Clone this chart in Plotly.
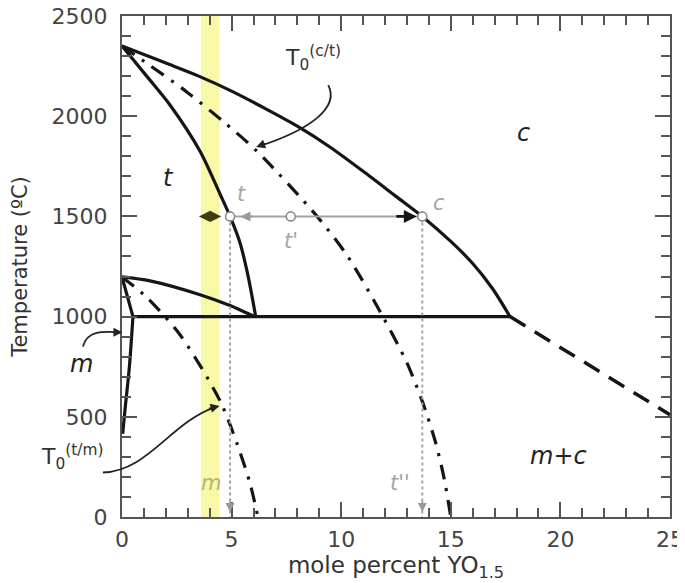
import plotly.graph_objects as go

# ---------------- data (mole % YO1.5 , temperature in C) ----------------
# c / (t+c) boundary
ct_x = [0, 1, 2, 3.5, 5, 6.5, 8, 9.5, 11, 12.5, 13.7, 15, 16, 16.9, 17.7]
ct_T = [2350, 2308, 2265, 2200, 2125, 2040, 1950, 1845, 1725, 1600, 1500, 1375, 1265, 1140, 1000]
# t / (t+c) boundary
tc_x = [0, 1.2, 2.19, 3.56, 4.47, 4.93, 5.39, 5.75, 6.1]
tc_T = [2350, 2190, 2056, 1825, 1612, 1500, 1366, 1203, 1000]
# t / (m+t) boundary
tm_x = [0, 1.28, 3.56, 4.93, 5.84, 6.1]
tm_T = [1198, 1178, 1109, 1055, 1011, 1000]
# m / (m+t) boundary
mt_x = [0, 0.5]
mt_T = [1198, 1000]
# m solvus
ms_x = [0.5, 0.33, 0.15, 0.03]
ms_T = [1000, 740, 550, 415]
# eutectoid isotherm
eu_x = [0.5, 17.7]
eu_T = [1000, 1000]
# metastable extension (dashed)
ext_x = [17.7, 25]
ext_T = [1000, 510]
# T0 (c/t)
t0ct_x = [0, 1.28, 2.97, 4.6, 6.16, 8.9, 10.3, 11.9, 13.0, 13.7, 14.3, 14.7, 15.0]
t0ct_T = [2350, 2253, 2120, 1975, 1825, 1500, 1300, 1000, 769, 577, 374, 190, 0]
# T0 (t/m)
t0tm_x = [0, 1.14, 2.56, 3.65, 4.56, 5.25, 5.84, 6.2]
t0tm_T = [1198, 1095, 922, 740, 560, 365, 168, 0]
# tie line at 1500 C and compositions
tie_T = 1500
tie_x = [4.93, 13.7]
tie_pts_x = [4.93, 7.7, 13.7]
band_x = [3.6, 4.45]
band_mid = 4.02

# labels
phase_labels = ["<i>t</i>", "<i>c</i>", "<i>m+c</i>", "<i>m</i>"]
phase_lx = [2.1, 18.3, 19.9, -1.83]
phase_lT = [1691, 1918, 306, 764]
grey_labels = ["<i>t</i>", "<i>t'</i>", "<i>c</i>", "<i>t''</i>"]
grey_lx = [5.45, 7.7, 14.45, 12.7]
grey_lT = [1610, 1375, 1565, 170]
band_label = "<i>m</i>"
band_lx, band_lT = 4.06, 168
t0_labels = ["T<sub>0</sub><sup>(c/t)</sup>", "T<sub>0</sub><sup>(t/m)</sup>"]
t0_lx = [8.7, -2.3]
t0_lT = [2290, 300]

XR = [0, 25]
YR = [0, 2500]

def px(x):
    return (x - XR[0]) / (XR[1] - XR[0])

def py(y):
    return (y - YR[0]) / (YR[1] - YR[0])

fig = go.Figure()

BLK = "#151515"

def curve(x, y, dash="solid", width=3.2, color=BLK, shape="spline"):
    fig.add_trace(go.Scatter(x=x, y=y, mode="lines",
                             line=dict(color=color, width=width, dash=dash, shape=shape, smoothing=0.8),
                             hoverinfo="skip", showlegend=False))

curve(ct_x, ct_T)
curve(tc_x, tc_T)
curve(tm_x, tm_T)
curve(mt_x, mt_T, shape="linear")
curve(ms_x, ms_T)
curve(eu_x, eu_T, shape="linear")
curve(ext_x, ext_T, dash="18px,11px", width=3.5, shape="linear")
curve(t0ct_x, t0ct_T, dash="15px,9px,3px,9px", width=3.2)
curve(t0tm_x, t0tm_T, dash="15px,9px,3px,9px", width=3.2)

# tie line & dotted verticals
GREY = "#a3a3a3"
fig.add_trace(go.Scatter(x=tie_x, y=[tie_T, tie_T], mode="lines",
                         line=dict(color=GREY, width=2), hoverinfo="skip", showlegend=False))
for xv in tie_x:
    fig.add_trace(go.Scatter(x=[xv, xv], y=[tie_T, YR[0]], mode="lines",
                             line=dict(color=GREY, width=2, dash="3px,3px"),
                             hoverinfo="skip", showlegend=False))
fig.add_trace(go.Scatter(x=tie_pts_x, y=[tie_T] * 3, mode="markers",
                         marker=dict(symbol="circle", size=9, color="white",
                                     line=dict(color="#8c8c8c", width=1.6)),
                         hoverinfo="skip", showlegend=False))
fig.add_trace(go.Scatter(x=[band_mid], y=[tie_T], mode="markers",
                         marker=dict(symbol="diamond-wide", size=16, color="#3d3d12"),
                         hoverinfo="skip", showlegend=False))

shapes = [dict(type="rect", xref="x", yref="y", x0=band_x[0], x1=band_x[1], y0=YR[0], y1=YR[1],
               fillcolor="#f8f8a6", line=dict(width=0), layer="below")]

# curved pointer arrows (paper coordinates from data)
def cpath(pts):
    p = ["M %.4f,%.4f" % (px(pts[0][0]), py(pts[0][1])), "C"]
    p += ["%.4f,%.4f" % (px(a), py(b)) for a, b in pts[1:]]
    return " ".join(p)

arrow_paths = [
    [(9.41, 2155), (9.95, 2040), (8.5, 1930), (6.25, 1850)],
    [(-0.87, 222), (1.2, 230), (2.2, 470), (4.25, 548)],
    [(-1.78, 850), (-1.6, 935), (-0.8, 925), (-0.1, 922)],
]
for pts in arrow_paths:
    shapes.append(dict(type="path", xref="paper", yref="paper", path=cpath(pts),
                       line=dict(color="#222", width=1.8)))

ann = []
FONT = "DejaVu Sans"

def label(t, x, y, size, color):
    ann.append(dict(x=px(x), y=py(y), xref="paper", yref="paper", text=t, showarrow=False,
                    xanchor="center", yanchor="middle",
                    font=dict(family=FONT, size=size, color=color)))

for t, x, y in zip(phase_labels, phase_lx, phase_lT):
    label(t, x, y, 24, "#222")
for t, x, y in zip(grey_labels, grey_lx, grey_lT):
    label(t, x, y, 21, "#a5a5a5")
label(band_label, band_lx, band_lT, 21, "#b4b47a")
for t, x, y in zip(t0_labels, t0_lx, t0_lT):
    label(t, x, y, 22, "#333")

# arrow heads
heads = [
    (6.12, 1846, 11, -4, "#222", 1.8),
    (4.45, 554, -12, 3, "#222", 1.8),
    (0.02, 922, -10, 0, "#222", 1.8),
    (5.4, tie_T, 14, 0, "#999", 2),
    (13.45, tie_T, -22, 0, BLK, 2.6),
    (tie_x[0], 25, 0, -12, "#999", 1.8),
    (tie_x[1], 25, 0, -12, "#999", 1.8),
]
for x, y, ax, ay, col, w in heads:
    ann.append(dict(x=px(x), y=py(y), xref="paper", yref="paper", ax=ax, ay=ay, text="",
                    showarrow=True, arrowhead=2, arrowsize=1, arrowwidth=w, arrowcolor=col))

axis_common = dict(showline=True, linecolor="#555", linewidth=2, mirror="ticks",
                   ticks="inside", ticklen=15, tickwidth=2, tickcolor="#555",
                   showgrid=False, zeroline=False, automargin=False,
                   ticklabeloverflow="allow",
                   tickfont=dict(family=FONT, size=22, color="#444"))

fig.update_layout(
    width=685, height=583,
    margin=dict(l=114, r=23, t=8, b=74),
    paper_bgcolor="white", plot_bgcolor="white",
    shapes=shapes, annotations=ann, showlegend=False,
    xaxis=dict(range=XR, dtick=5, tick0=0,
               minor=dict(ticks="inside", dtick=1, ticklen=9, tickwidth=1.6, tickcolor="#555"),
               title=dict(text="mole percent YO<sub>1.5</sub>", standoff=0,
                          font=dict(family=FONT, size=23, color="#333")),
               ticklabelstandoff=2, **axis_common),
    yaxis=dict(range=YR, dtick=500, tick0=0,
               minor=dict(ticks="inside", dtick=100, ticklen=9, tickwidth=1.6, tickcolor="#555"),
               title=dict(text="Temperature (ºC)", standoff=28,
                          font=dict(family=FONT, size=21, color="#333")),
               ticklabelstandoff=8, **axis_common),
)

fig.write_html("out.html")
